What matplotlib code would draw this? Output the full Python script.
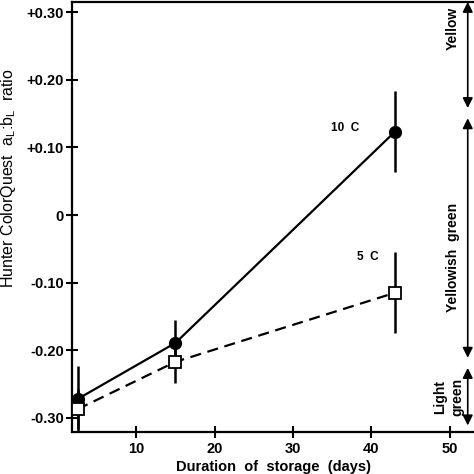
import matplotlib
matplotlib.use("Agg")
import matplotlib.pyplot as plt

plt.rcParams['font.family'] = ['Liberation Sans', 'DejaVu Sans']
plt.rcParams['mathtext.fontset'] = 'custom'
plt.rcParams['mathtext.rm'] = 'Liberation Sans'
plt.rcParams['mathtext.it'] = 'Liberation Sans'

# Data
days = [2.5, 15, 43]
ratio_10c = [-0.272, -0.189, 0.123]
err_10c = [0.049, 0.034, 0.060]
ratio_5c = [-0.287, -0.217, -0.115]
err_5c = [0.030, 0.031, 0.060]

yticks = [0.30, 0.20, 0.10, 0.0, -0.10, -0.20, -0.30]
ytick_labels = ['+0.30', '+0.20', '+0.10', '0', '-0.10', '-0.20', '-0.30']
xticks = [10, 20, 30, 40, 50]

zone_names = ['Yellow', 'Yellowish  green', 'Light\ngreen']
zone_tops = [0.315, 0.143, -0.226]
zone_bottoms = [0.158, -0.211, -0.311]
zone_text_y = [0.276, -0.062, -0.269]
zone_text_x = [50.4, 50.4, 49.9]

fig = plt.figure(figsize=(4.74, 4.74), dpi=100)
ax = fig.add_axes([72/474, 42/474, 402/474, 430/474])

ax.errorbar(days, ratio_10c, yerr=err_10c, color='black', lw=1.6,
            marker='o', markersize=8.5, markerfacecolor='black',
            elinewidth=1.8, capsize=0, clip_on=False, zorder=3)
ax.errorbar(days, ratio_5c, yerr=err_5c, color='black', lw=1.6, ls=(0, (5, 3)),
            marker='s', markersize=8.5, markerfacecolor='white', markeredgewidth=1.3,
            elinewidth=1.8, capsize=0, clip_on=False, zorder=4)

ax.text(36.7, 0.128, '10  C', fontsize=8.5, fontweight='bold', ha='center', va='center')
ax.text(39.6, -0.062, '5  C', fontsize=8.5, fontweight='bold', ha='center', va='center')

ax.set_xlim(1.79, 53.1)
ax.set_ylim(-0.3207, 0.3148)
ax.set_yticks(yticks)
ax.set_yticklabels(ytick_labels, fontweight='bold', fontsize=10.5)
ax.set_xticks(xticks)
ax.set_xticklabels([str(t) for t in xticks], fontweight='bold', fontsize=10.5)
ax.tick_params(axis='both', direction='inout', length=8, width=1.5, pad=3)
ax.tick_params(axis='y', pad=2)
for s in ['left', 'bottom', 'top']:
    ax.spines[s].set_linewidth(1.6)
ax.spines['right'].set_visible(False)

ax.set_xlabel('Duration  of  storage  (days)', fontweight='bold', fontsize=10.5, labelpad=3)
ax.set_ylabel('Hunter ColorQuest  a$_{\\rm L}$:b$_{\\rm L}$  ratio', fontsize=11.5)
ax.yaxis.set_label_coords(-0.135, 0.59)

arrow_x = 52.3
for name, top, bot, tx, ty in zip(zone_names, zone_tops, zone_bottoms, zone_text_x, zone_text_y):
    ax.annotate('', xy=(arrow_x, top), xytext=(arrow_x, bot),
                arrowprops=dict(arrowstyle='<|-|>', color='black', lw=1.2,
                                mutation_scale=15, shrinkA=0, shrinkB=0),
                annotation_clip=False)
    ax.text(tx, ty, name, rotation=90, ha='center', va='center',
            fontsize=10, fontweight='bold', linespacing=1.3)

fig.savefig('out.png', dpi=100)
